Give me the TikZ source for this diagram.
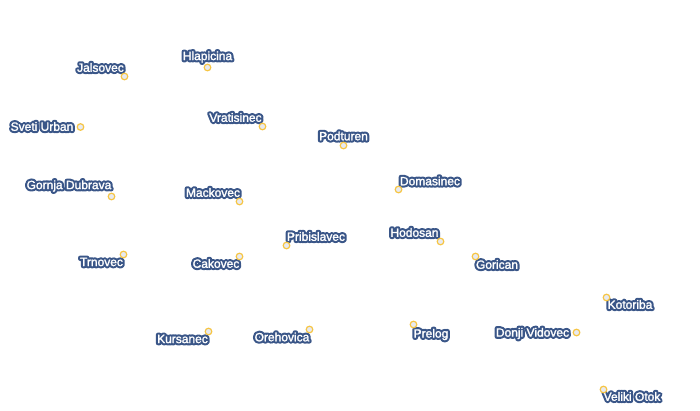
\documentclass[tikz,border=0pt]{standalone}
\usepackage{fontspec}
\setmainfont[FakeBold=1.8]{Liberation Sans}
\newfontfamily\halofont[FakeBold=38]{Liberation Sans}
\definecolor{halo}{HTML}{3A5688}
\definecolor{dotline}{HTML}{F6C544}
\definecolor{dotfill}{HTML}{E8EAF0}
\newcommand{\halotxt}[1]{\leavevmode\special{pdf:code 1 j 1 J}\rlap{\halofont\color{halo}#1}#1}
\tikzset{
  town/.style={circle,draw=dotline,fill=dotfill,line width=1.2pt,minimum size=6.6pt,inner sep=0pt},
  lab/.style={inner sep=0pt,text=white,font=\fontsize{12}{14}\selectfont,anchor=center}
}
\begin{document}
\begin{tikzpicture}[x=1pt,y=-1pt]
\useasboundingbox (0,0) rectangle (700,410);
\fill[white] (0,0) rectangle (700,410);
\node[lab] (l1) at (100.5,67.5) {\halotxt{Jalsovec}};
\node[lab] (l2) at (207.5,57) {\halotxt{Hlapicina}};
\node[lab] (l3) at (42,126.5) {\halotxt{Sveti Urban}};
\node[lab] (l4) at (235.5,117.5) {\halotxt{Vratisinec}};
\node[lab] (l5) at (343.5,136) {\halotxt{Podturen}};
\node[lab] (l6) at (430,181) {\halotxt{Domasinec}};
\node[lab] (l7) at (69,186) {\halotxt{Gornja Dubrava}};
\node[lab] (l8) at (213,192.5) {\halotxt{Mackovec}};
\node[lab] (l9) at (316,236.5) {\halotxt{Pribislavec}};
\node[lab] (l10) at (414.5,232.5) {\halotxt{Hodosan}};
\node[lab] (l11) at (497,264.5) {\halotxt{Gorican}};
\node[lab] (l12) at (101.5,262) {\halotxt{Trnovec}};
\node[lab] (l13) at (216,263.5) {\halotxt{Cakovec}};
\node[lab] (l14) at (182.5,339) {\halotxt{Kursanec}};
\node[lab] (l15) at (282,337) {\halotxt{Orehovica}};
\node[lab] (l16) at (431,334.5) {\halotxt{Prelog}};
\node[lab] (l17) at (532.5,333.5) {\halotxt{Donji Vidovec}};
\node[lab] (l18) at (630,304.5) {\halotxt{Kotoriba}};
\node[lab] (l19) at (632,396.5) {\halotxt{Veliki Otok}};
\node[town] (d1) at (124.5,76.5) {};
\node[town] (d2) at (207.5,67.5) {};
\node[town] (d3) at (80.5,127) {};
\node[town] (d4) at (262.5,126.5) {};
\node[town] (d5) at (343.5,145.5) {};
\node[town] (d6) at (398.5,189.5) {};
\node[town] (d7) at (111.5,196.5) {};
\node[town] (d8) at (239.5,201.5) {};
\node[town] (d9) at (286.5,245.5) {};
\node[town] (d10) at (440.5,241.5) {};
\node[town] (d11) at (475.5,256.5) {};
\node[town] (d12) at (123.5,254.5) {};
\node[town] (d13) at (239.5,256.5) {};
\node[town] (d14) at (208.5,331.5) {};
\node[town] (d15) at (309.5,329.5) {};
\node[town] (d16) at (413.5,324.5) {};
\node[town] (d17) at (576.5,332.5) {};
\node[town] (d18) at (606.5,297.5) {};
\node[town] (d19) at (603.5,389.5) {};
\end{tikzpicture}
\end{document}
